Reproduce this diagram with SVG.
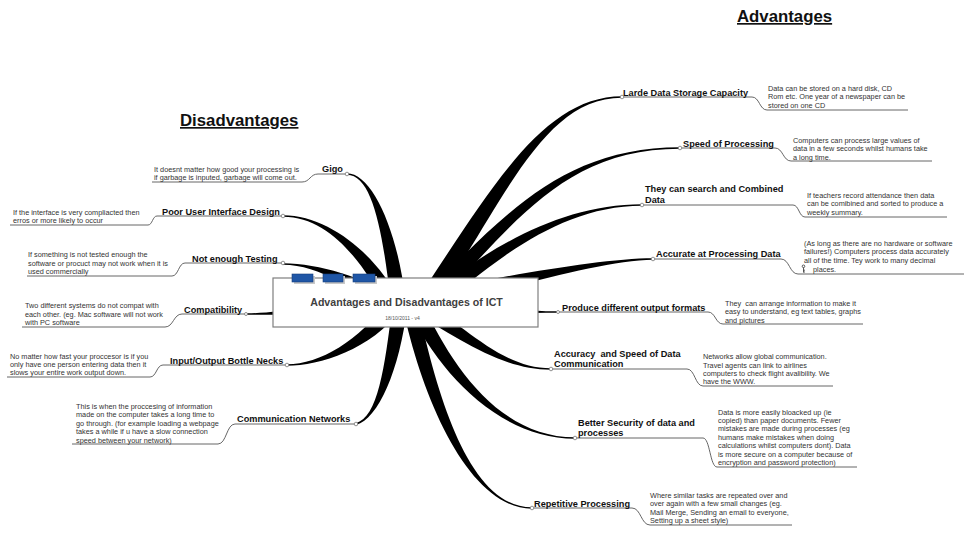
<svg xmlns="http://www.w3.org/2000/svg" width="969" height="534" viewBox="0 0 969 534">
<style>
.lbl{font-family:"Liberation Sans",Arial,sans-serif;font-weight:bold;font-size:9.2px;fill:#111}
.note{font-family:"Liberation Sans",Arial,sans-serif;font-size:7.3px;fill:#333}
.ttl{font-family:"Liberation Sans",Arial,sans-serif;font-weight:bold;font-size:16.8px;fill:#111;text-decoration:underline}
.ln{fill:none;stroke:#555;stroke-width:0.9}
.br{fill:#000}
.dot{fill:#fff;stroke:#777;stroke-width:0.8}
.tab{fill:#1f56a6;stroke:#173f7c;stroke-width:0.6}
.tabs{fill:#c8c8c8}
</style>
<rect width="969" height="534" fill="#fff"/>
<text class="ttl" x="737" y="22">Advantages</text>
<text class="ttl" x="180" y="126">Disadvantages</text>

<g id="connectors">
<path class="br" d="M405.5,300 C397.5,230 372,173.3 347,173.3 L347,174.7 C372,174.7 382.5,230 390.5,300 Z"/>
<path class="br" d="M398.6,298.5 C376.6,256.5 330,215.3 283,215.3 L283,216.7 C330,216.7 363.4,263.5 385.4,305.5 Z"/>
<path class="br" d="M393.6,295.5 C363.6,278.5 320,263.3 283,263.3 L283,264.7 C320,264.7 356.4,291.5 386.4,308.5 Z"/>
<path class="br" d="M389.6,299 C319.6,304 280,313.3 247,313.3 L247,314.7 C280,314.7 320.4,316 390.4,311 Z"/>
<path class="br" d="M389,300.5 C359,340.5 320,364.3 287,364.3 L287,365.7 C320,365.7 371,349.5 401,309.5 Z"/>
<path class="br" d="M392.6,304.1 C384.6,369.1 377.8,417.3 355.8,423.3 L356.2,424.7 C378.2,418.7 399.4,370.9 407.4,305.9 Z"/>
<path class="br" d="M402.6,306.6 C422.6,401.6 470,508.7 532,508.7 L532,507.3 C470,507.3 437.4,398.4 417.4,303.4 Z"/>
<path class="br" d="M408.1,308.1 C438.1,373.1 500,438.7 575,438.7 L575,437.3 C500,437.3 451.9,366.9 421.9,301.9 Z"/>
<path class="br" d="M411.4,311.5 C456.4,336.5 500,369.7 551,369.7 L551,368.3 C500,368.3 463.6,323.5 418.6,298.5 Z"/>
<path class="br" d="M419.5,311 C479.5,316 520,312.7 558,312.7 L558,311.3 C520,311.3 480.5,304 420.5,299 Z"/>
<path class="br" d="M421.4,307.4 C501.4,292.4 600,259.7 653,259.7 L653,258.3 C600,258.3 498.6,277.6 418.6,292.6 Z"/>
<path class="br" d="M434.8,310.8 C494.8,260.8 560,205.7 642,205.7 L642,204.3 C560,204.3 485.2,249.2 425.2,299.2 Z"/>
<path class="br" d="M430.3,310.3 C510.3,230.3 560,148.7 680,148.7 L680,147.3 C560,147.3 499.7,219.7 419.7,299.7 Z"/>
<path class="br" d="M437.2,300.8 C507.2,194.8 545,97.7 622,97.7 L622,96.3 C545,96.3 492.8,185.2 422.8,291.2 Z"/>
</g>

<g id="center">
<rect x="273" y="278" width="265" height="49" fill="#fff" stroke="#7f7f7f" stroke-width="1.2"/>
<rect class="tabs" x="294" y="276" width="21" height="8"/>
<rect class="tab" x="292" y="274" width="21" height="8"/>
<rect class="tabs" x="325" y="276" width="20" height="8"/>
<rect class="tab" x="323" y="274" width="20" height="8"/>
<rect class="tabs" x="355" y="276" width="22" height="8"/>
<rect class="tab" x="353" y="274" width="22" height="8"/>
<text x="406.5" y="305.5" text-anchor="middle" font-family="Liberation Sans, Arial, sans-serif" font-weight="bold" font-size="10.6" fill="#404040">Advantages and Disadvantages of ICT</text>
<text x="402.5" y="319.5" text-anchor="middle" font-family="Liberation Sans, Arial, sans-serif" font-size="5" fill="#555">18/10/2011 - v4</text>
</g>

<g id="gigo">
<path class="ln" d="M347,174 H318 C310,174 310,182 302,182 H152"/>
<circle class="dot" cx="347" cy="174" r="1.8"/>
<text class="lbl" x="322" y="172">Gigo</text>
<text class="note" x="154" y="171.5">It doesnt matter how good your processing is</text>
<text class="note" x="154" y="180">if garbage is inputed, garbage will come out.</text>
</g>

<g id="poor-ui">
<path class="ln" d="M283,216 H157 C152.5,216 152.5,225 148,225 H10"/>
<circle class="dot" cx="283" cy="216" r="1.8"/>
<text class="lbl" x="162" y="214.5">Poor User Interface Design</text>
<text class="note" x="13" y="214.5">If the interface is very compliacted then</text>
<text class="note" x="13" y="222.8">erros or more likely to occur</text>
</g>

<g id="testing">
<path class="ln" d="M283,263 H185 C178.5,263 178.5,276 172,276 H27"/>
<circle class="dot" cx="283" cy="263" r="1.8"/>
<text class="lbl" x="192" y="261.5">Not enough Testing</text>
<text class="note" x="28" y="257">If something is not tested enough the</text>
<text class="note" x="28" y="265.5">software or procuct may not work when it is</text>
<text class="note" x="28" y="274">used commercially</text>
</g>

<g id="compatibility">
<path class="ln" d="M246,314 H182 C173.5,314 173.5,327 165,327 H22"/>
<circle class="dot" cx="246" cy="314" r="1.5"/>
<text class="lbl" x="184" y="312.5">Compatibility</text>
<text class="note" x="25" y="308">Two different systems do not compat with</text>
<text class="note" x="25" y="316.5">each other. (eg. Mac software will not work</text>
<text class="note" x="25" y="325">with PC software</text>
</g>

<g id="io-bottlenecks">
<path class="ln" d="M287,365 H163 C156.5,365 156.5,377 150,377 H7"/>
<circle class="dot" cx="287" cy="365" r="1.8"/>
<text class="lbl" x="170" y="363.5">Input/Output Bottle Necks</text>
<text class="note" x="10" y="358.5">No matter how fast your proccesor is if you</text>
<text class="note" x="10" y="367">only have one person entering data then it</text>
<text class="note" x="10" y="375.3">slows your entire work output down.</text>
</g>

<g id="comm-networks">
<path class="ln" d="M356,424 H235 C226.5,424 226.5,444 218,444 H72"/>
<circle class="dot" cx="356" cy="424" r="1.8"/>
<text class="lbl" x="237" y="422">Communication Networks</text>
<text class="note" x="76" y="408.5">This is when the proccesing of information</text>
<text class="note" x="76" y="417">made on the computer takes a long time to</text>
<text class="note" x="76" y="425.5">go through. (for example loading a webpage</text>
<text class="note" x="76" y="434">takes a while if u have a slow connection</text>
<text class="note" x="76" y="442.5">speed between your network)</text>
</g>

<g id="storage">
<path class="ln" d="M622,97 H752 C759.5,97 759.5,110 767,110 H908"/>
<circle class="dot" cx="622" cy="97" r="1.8"/>
<text class="lbl" x="623" y="95.5">Larde Data Storage Capacity</text>
<text class="note" x="768" y="90.5">Data can be stored on a hard disk, CD</text>
<text class="note" x="768" y="99.2">Rom etc. One year of a newspaper can be</text>
<text class="note" x="768" y="108">stored on one CD</text>
</g>

<g id="speed">
<path class="ln" d="M680,148 H775 C783,148 783,161 791,161 H932"/>
<circle class="dot" cx="680" cy="148" r="1.8"/>
<text class="lbl" x="683" y="146.5">Speed of Processing</text>
<text class="note" x="793" y="142.5">Computers can process large values of</text>
<text class="note" x="793" y="151">data in a few seconds whilst humans take</text>
<text class="note" x="793" y="159.5">a long time.</text>
</g>

<g id="search">
<path class="ln" d="M642,205 H793 C799,205 799,217 805,217 H947"/>
<circle class="dot" cx="642" cy="205" r="1.8"/>
<text class="lbl" x="645" y="191.5">They can search and Combined</text>
<text class="lbl" x="645" y="202.5">Data</text>
<text class="note" x="807" y="197.5">If teachers record attendance then data</text>
<text class="note" x="807" y="206">can be comibined and sorted to produce a</text>
<text class="note" x="807" y="214.5">weekly summary.</text>
</g>

<g id="accurate">
<path class="ln" d="M653,259 H781 C789.5,259 789.5,274 798,274 H964"/>
<circle class="dot" cx="653" cy="259" r="1.8"/>
<text class="lbl" x="656" y="257">Accurate at Processing Data</text>
<text class="note" x="804" y="245.5">(As long as there are no hardware or software</text>
<text class="note" x="804" y="254.3">failures!) Computers process data accurately</text>
<text class="note" x="804" y="263.1">all of the time. Tey work to many decimal</text>
<text class="note" x="813" y="271.9">places.</text>
<g id="note-icon" fill="none" stroke="#333" stroke-width="0.8">
<circle cx="803.5" cy="266.3" r="1.3"/>
<path d="M803.5,267.6 V272.5 M803.5,270.2 H805 M803.5,272 H805"/>
</g>
</g>

<g id="output-formats">
<path class="ln" d="M558,312 H708 C715.5,312 715.5,324 723,324 H863"/>
<circle class="dot" cx="558" cy="312" r="1.5"/>
<text class="lbl" x="562" y="310.5">Produce different output formats</text>
<text class="note" x="725" y="305.5" xml:space="preserve">They  can arrange information to make it</text>
<text class="note" x="725" y="314">easy to understand, eg text tables, graphs</text>
<text class="note" x="725" y="322.5">and pictures</text>
</g>

<g id="data-communication">
<path class="ln" d="M551,369 H687 C695,369 695,386 703,386 H833"/>
<circle class="dot" cx="551" cy="369" r="1.8"/>
<text class="lbl" x="554" y="356.5" xml:space="preserve">Accuracy  and Speed of Data</text>
<text class="lbl" x="554" y="367">Communication</text>
<text class="note" x="703" y="359.2">Networks allow global communication.</text>
<text class="note" x="703" y="367.5">Travel agents can link to airlines</text>
<text class="note" x="703" y="375.8">computers to check flight avalibility. We</text>
<text class="note" x="703" y="384">have the WWW.</text>
</g>

<g id="security">
<path class="ln" d="M575,438 H703 C710,438 710,467 717,467 H857"/>
<circle class="dot" cx="575" cy="438" r="1.8"/>
<text class="lbl" x="578" y="425.5">Better Security of data and</text>
<text class="lbl" x="578" y="436">processes</text>
<text class="note" x="718" y="414.6">Data is more easily bloacked up (ie</text>
<text class="note" x="718" y="423">copied) than paper documents. Fewer</text>
<text class="note" x="718" y="431.4">mistakes are made during processes (eg</text>
<text class="note" x="718" y="439.8">humans make mistakes when doing</text>
<text class="note" x="718" y="448.2">calculations whilst computers dont). Data</text>
<text class="note" x="718" y="456.6">is more secure on a computer because of</text>
<text class="note" x="718" y="465">encryption and password protection)</text>
</g>

<g id="repetitive">
<path class="ln" d="M532,508 H632 C641,508 641,525 650,525 H792"/>
<circle class="dot" cx="532" cy="508" r="1.8"/>
<text class="lbl" x="534" y="506.5">Repetitive Processing</text>
<text class="note" x="650" y="497.5">Where similar tasks are repeated over and</text>
<text class="note" x="650" y="506">over again with a few small changes (eg.</text>
<text class="note" x="650" y="514.5">Mail Merge, Sending an email to everyone,</text>
<text class="note" x="650" y="523">Setting up a sheet style)</text>
</g>
</svg>
